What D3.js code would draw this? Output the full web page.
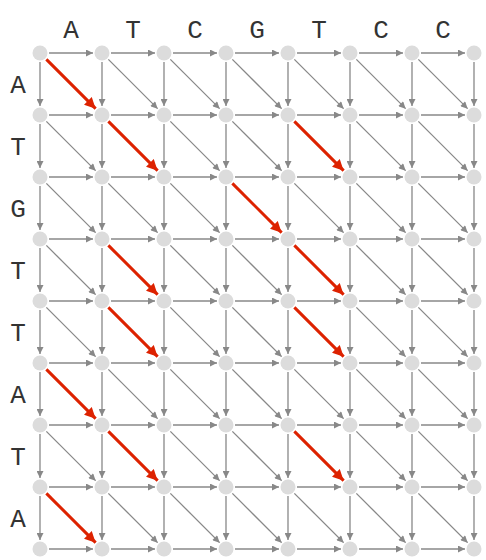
<!DOCTYPE html>
<html><head><script src="https://cdn.jsdelivr.net/npm/d3@7"></script>
<style>body{margin:0;background:#fff} text.lab{font-family:"Courier New",Courier,"Liberation Mono","DejaVu Sans Mono",monospace;font-size:26px;fill:#333}</style></head>
<body><svg id="c" width="486" height="560"></svg>
<script>
const colSeq = ["A","T","C","G","T","C","C"];
const rowSeq = ["A","T","G","T","T","A","T","A"];
const svg = d3.select("#c");
const x = d3.scaleLinear().domain([0,7]).range([40,474]);
const y = d3.scaleLinear().domain([0,8]).range([53,549]);
const defs = svg.append("defs");
function mk(id,col,w,h){defs.append("marker").attr("id",id).attr("viewBox","0 0 10 10").attr("refX",10).attr("refY",5)
 .attr("markerWidth",w).attr("markerHeight",h).attr("markerUnits","userSpaceOnUse").attr("orient","auto")
 .append("path").attr("d","M0,0L10,5L0,10z").attr("fill",col);}
mk("g","#888",9,7); mk("r","#dd2200",13,11);
const edges=[];
for(let i=0;i<=8;i++)for(let j=0;j<=7;j++){
 if(j<7)edges.push({x1:j,y1:i,x2:j+1,y2:i,red:false});
 if(i<8)edges.push({x1:j,y1:i,x2:j,y2:i+1,red:false});
 if(i<8&&j<7)edges.push({x1:j,y1:i,x2:j+1,y2:i+1,red:rowSeq[i]===colSeq[j]});
}
edges.sort((a,b)=>a.red-b.red);
const r=9;
edges.forEach(e=>{
 const X1=x(e.x1),Y1=y(e.y1),X2=x(e.x2),Y2=y(e.y2);
 const L=Math.hypot(X2-X1,Y2-Y1),ux=(X2-X1)/L,uy=(Y2-Y1)/L;
 svg.append("line").attr("x1",X1+ux*r).attr("y1",Y1+uy*r).attr("x2",X2-ux*r).attr("y2",Y2-uy*r)
  .attr("stroke",e.red?"#dd2200":"#888").attr("stroke-width",e.red?3:1.3)
  .attr("marker-end",e.red?"url(#r)":"url(#g)");
});
for(let i=0;i<=8;i++)for(let j=0;j<=7;j++)
 svg.append("circle").attr("cx",x(j)).attr("cy",y(i)).attr("r",7.5).attr("fill","#dcdcdc");
colSeq.forEach((c,j)=>svg.append("text").attr("class","lab").attr("x",x(j+0.5)).attr("y",38).attr("text-anchor","middle").text(c));
rowSeq.forEach((c,i)=>svg.append("text").attr("class","lab").attr("x",18).attr("y",y(i+0.5)+9).attr("text-anchor","middle").text(c));
</script></body></html>
